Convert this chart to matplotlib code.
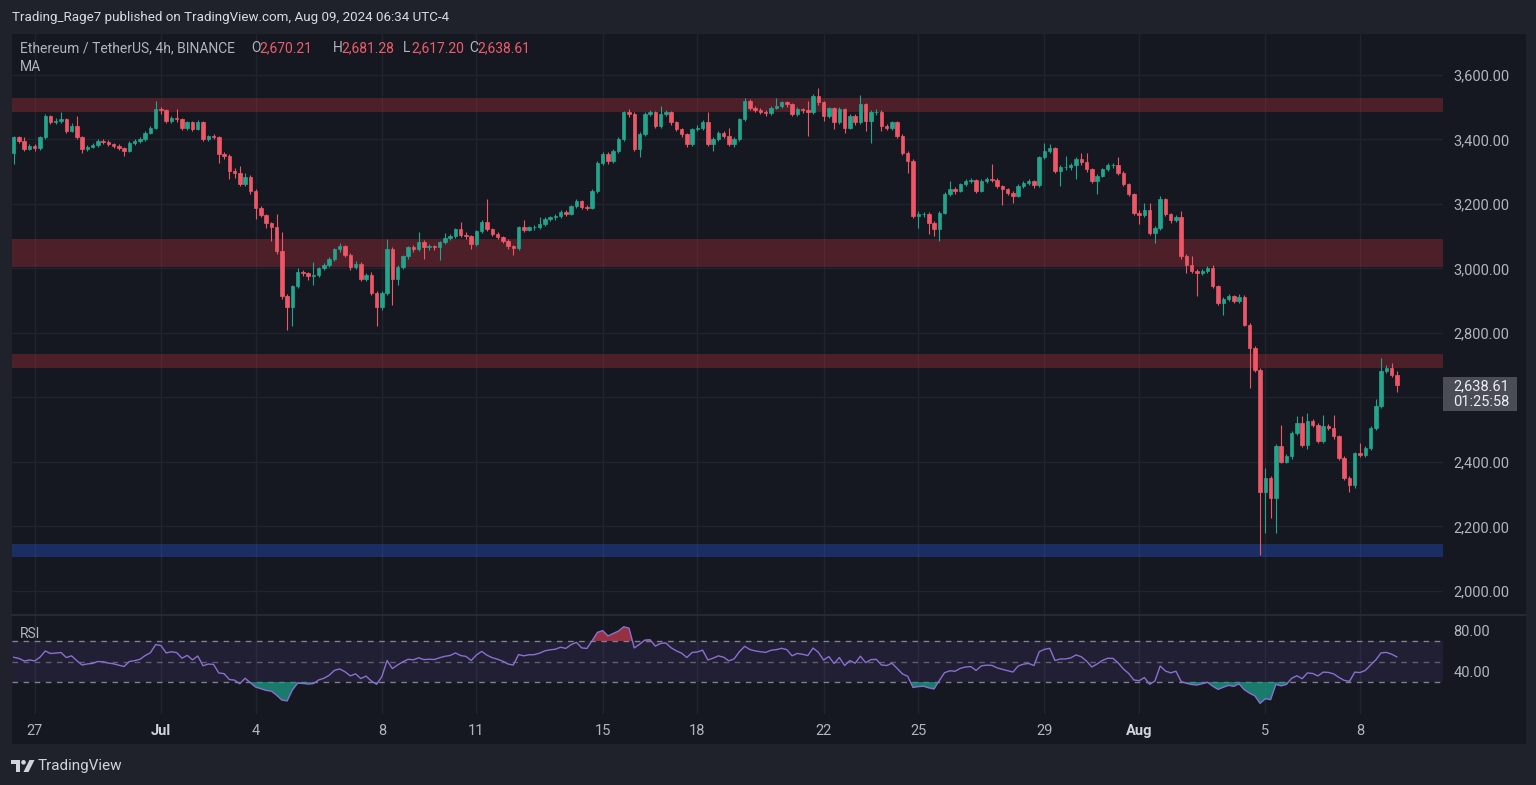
import numpy as np
import pandas as pd
import matplotlib
matplotlib.use('Agg')
from matplotlib import pyplot as plt
from matplotlib import patches

plt.rcParams['font.family'] = ['Roboto', 'DejaVu Sans']

W, H = 1536, 785

# ---- ETH/USDT 4h candles (Jun 26 08:00 -> Aug 9 04:00) ----
first_open = 3359
closes = [
    3406, 3395, 3370, 3380, 3372, 3406,
    3473, 3453, 3458, 3463, 3427, 3442,
    3406, 3370, 3378, 3382, 3395, 3393,
    3385, 3380, 3372, 3364, 3390, 3394,
    3401, 3421, 3437, 3494, 3490, 3458,
    3466, 3462, 3437, 3453, 3432, 3453,
    3401, 3410, 3408, 3354, 3349, 3302,
    3296, 3261, 3285, 3240, 3188, 3165,
    3140, 3128, 3053, 2913, 2879, 2944,
    2990, 2985, 2975, 2978, 3000, 3010,
    3028, 3059, 3068, 3043, 3003, 3015,
    2966, 2980, 2925, 2879, 2925, 3059,
    2966, 3003, 3037, 3065, 3060, 3081,
    3065, 3068, 3066, 3081, 3093, 3100,
    3121, 3105, 3100, 3075, 3115, 3143,
    3121, 3106, 3097, 3085, 3068, 3062,
    3127, 3120, 3127, 3128, 3137, 3152,
    3158, 3162, 3174, 3170, 3193, 3208,
    3190, 3188, 3240, 3328, 3354, 3333,
    3364, 3401, 3484, 3478, 3370, 3416,
    3478, 3484, 3442, 3478, 3484, 3453,
    3432, 3416, 3385, 3432, 3437, 3455,
    3385, 3401, 3421, 3411, 3385, 3401,
    3463, 3520, 3499, 3490, 3485, 3481,
    3499, 3504, 3515, 3509, 3478, 3494,
    3490, 3484, 3535, 3515, 3473, 3496,
    3453, 3494, 3437, 3473, 3453, 3509,
    3458, 3484, 3486, 3442, 3437, 3453,
    3411, 3359, 3333, 3162, 3168, 3170,
    3142, 3121, 3173, 3230, 3245, 3240,
    3261, 3271, 3274, 3240, 3271, 3276,
    3274, 3256, 3245, 3235, 3225, 3256,
    3266, 3270, 3258, 3344, 3364, 3372,
    3302, 3313, 3313, 3320, 3339, 3330,
    3307, 3271, 3287, 3307, 3320, 3320,
    3297, 3261, 3230, 3173, 3166, 3180,
    3111, 3126, 3214, 3168, 3150, 3160,
    3038, 3012, 2992, 2985, 2992, 3000,
    2945, 2893, 2904, 2914, 2900, 2912,
    2826, 2754, 2686, 2308, 2350, 2288,
    2448, 2401, 2417, 2489, 2521, 2453,
    2526, 2515, 2464, 2510, 2505, 2479,
    2412, 2350, 2329, 2427, 2420, 2443,
    2505, 2572, 2681, 2690, 2670.21, 2638.61,
]
highs = [
    3412, 3410, 3406, 3386, 3385, 3410,
    3478, 3475, 3466, 3484, 3468, 3450,
    3473, 3412, 3384, 3390, 3400, 3401,
    3398, 3390, 3386, 3378, 3394, 3400,
    3406, 3426, 3442, 3520, 3500, 3495,
    3472, 3494, 3468, 3458, 3458, 3460,
    3456, 3415, 3418, 3412, 3360, 3355,
    3310, 3318, 3295, 3290, 3245, 3192,
    3170, 3145, 3168, 3112, 2920, 2950,
    3000, 2995, 2990, 3020, 3005, 3018,
    3034, 3064, 3080, 3072, 3048, 3022,
    3020, 2986, 2990, 2930, 2930, 3090,
    3065, 3010, 3042, 3070, 3072, 3112,
    3088, 3075, 3074, 3086, 3110, 3106,
    3126, 3143, 3112, 3104, 3120, 3150,
    3214, 3126, 3112, 3102, 3090, 3072,
    3132, 3150, 3133, 3134, 3160, 3158,
    3164, 3168, 3180, 3182, 3198, 3215,
    3212, 3196, 3246, 3334, 3362, 3360,
    3370, 3408, 3489, 3494, 3484, 3422,
    3484, 3490, 3488, 3504, 3490, 3488,
    3458, 3437, 3420, 3437, 3444, 3460,
    3484, 3406, 3426, 3426, 3437, 3406,
    3468, 3530, 3524, 3505, 3496, 3490,
    3504, 3530, 3520, 3520, 3514, 3500,
    3498, 3520, 3540, 3561, 3520, 3502,
    3500, 3500, 3498, 3478, 3478, 3537,
    3514, 3490, 3494, 3490, 3448, 3458,
    3458, 3416, 3364, 3338, 3178, 3176,
    3174, 3148, 3178, 3236, 3271, 3252,
    3266, 3276, 3280, 3278, 3276, 3282,
    3323, 3280, 3260, 3250, 3240, 3262,
    3272, 3276, 3275, 3350, 3390, 3385,
    3376, 3320, 3349, 3326, 3345, 3359,
    3359, 3312, 3292, 3312, 3326, 3328,
    3344, 3302, 3266, 3235, 3180, 3204,
    3204, 3132, 3225, 3218, 3172, 3166,
    3178, 3044, 3038, 2998, 2998, 3006,
    3012, 2950, 2910, 2920, 2918, 2920,
    2916, 2832, 2760, 2692, 2381, 2356,
    2454, 2515, 2424, 2495, 2541, 2541,
    2551, 2532, 2520, 2546, 2516, 2546,
    2484, 2418, 2356, 2432, 2460, 2448,
    2510, 2595, 2723, 2700, 2707, 2681.28,
]
lows = [
    3323, 3390, 3365, 3366, 3364, 3368,
    3400, 3447, 3448, 3452, 3420, 3422,
    3400, 3359, 3365, 3372, 3376, 3386,
    3380, 3374, 3366, 3349, 3360, 3384,
    3388, 3396, 3416, 3432, 3480, 3452,
    3450, 3455, 3430, 3430, 3425, 3428,
    3395, 3396, 3400, 3328, 3340, 3276,
    3280, 3255, 3255, 3232, 3152, 3158,
    3125, 3085, 3045, 2905, 2810, 2820,
    2938, 2975, 2965, 2950, 2972, 2995,
    3004, 3022, 3052, 3036, 2996, 2998,
    2960, 2960, 2918, 2820, 2870, 2918,
    2885, 2950, 2998, 3030, 3052, 3055,
    3028, 3058, 3058, 3025, 3075, 3088,
    3095, 3098, 3092, 3060, 3070, 3110,
    3115, 3100, 3090, 3078, 3060, 3043,
    3058, 3112, 3115, 3120, 3122, 3132,
    3146, 3150, 3156, 3164, 3165, 3188,
    3184, 3180, 3184, 3235, 3322, 3325,
    3328, 3358, 3396, 3470, 3364, 3344,
    3410, 3472, 3436, 3436, 3472, 3446,
    3425, 3408, 3375, 3380, 3426, 3430,
    3380, 3364, 3396, 3405, 3380, 3378,
    3396, 3458, 3492, 3484, 3478, 3474,
    3476, 3494, 3498, 3502, 3472, 3472,
    3482, 3411, 3478, 3508, 3458, 3468,
    3432, 3448, 3421, 3432, 3446, 3448,
    3427, 3390, 3476, 3427, 3430, 3430,
    3405, 3352, 3297, 3155, 3126, 3158,
    3106, 3100, 3085, 3168, 3225, 3232,
    3236, 3255, 3264, 3234, 3236, 3266,
    3268, 3250, 3196, 3228, 3204, 3220,
    3250, 3260, 3250, 3254, 3338, 3358,
    3296, 3256, 3305, 3306, 3276, 3322,
    3300, 3265, 3230, 3282, 3302, 3312,
    3290, 3255, 3224, 3166, 3137, 3160,
    3105, 3080, 3120, 3162, 3142, 3144,
    3030, 2987, 2985, 2914, 2978, 2986,
    2938, 2886, 2857, 2898, 2894, 2894,
    2820, 2629, 2680, 2112, 2179, 2226,
    2179, 2395, 2395, 2410, 2483, 2447,
    2440, 2508, 2458, 2458, 2498, 2472,
    2406, 2344, 2308, 2319, 2414, 2414,
    2438, 2500, 2566, 2676, 2664, 2617.20,
]

resistance_zones = [(3484, 3530), (3004, 3090), (2691, 2733)]
support_zone = (2105, 2145)

price_levels = [2000, 2200, 2400, 2600, 2800, 3000, 3200, 3400, 3600]
hidden_level = 2600   # its label sits under the last-price box
date_ticks = ['2024-06-27', '2024-07-01', '2024-07-04', '2024-07-08', '2024-07-11',
              '2024-07-15', '2024-07-18', '2024-07-22', '2024-07-25', '2024-07-29',
              '2024-08-01', '2024-08-05', '2024-08-08']
date_labels = ['27', 'Jul', '4', '8', '11', '15', '18', '22', '25', '29', 'Aug', '5', '8']

last_ohlc = ['2,670.21', '2,681.28', '2,617.20', '2,638.61']
countdown = '01:25:58'
rsi_len = 14
rsi_seed_move = 20   # assumed average move before the first visible candle

# ---- colours ----
OUTER = '#1f222b'
BG = '#151820'
GRID = '#20242e'
TXT = '#b2b5be'
HEAD = '#d8dbe3'
UP = '#22a58c'
DN = '#ef5767'
RSI_C = '#8a6fd1'

#

t = pd.date_range('2024-06-26 08:00', periods=len(closes), freq='4h')
tn = matplotlib.dates.date2num(t)
c = np.array(closes, dtype=float)
o = np.r_[first_open, c[:-1]]
hi = np.array(highs, dtype=float)
lo = np.array(lows, dtype=float)

# wilder rsi
ag = al = float(rsi_seed_move)
rsi = []
for d in np.diff(np.r_[first_open, c]):
    ag = (ag * (rsi_len - 1) + max(d, 0)) / rsi_len
    al = (al * (rsi_len - 1) + max(-d, 0)) / rsi_len
    rsi.append(100 - 100 / (1 + ag / al))
rsi = np.array(rsi)

fig = plt.figure(figsize=(W / 100, H / 100), dpi=100)
fig.set_facecolor(OUTER)

def box(l, top, r, b):
    return [l / W, 1 - b / H, (r - l) / W, (b - top) / H]

bg = fig.add_axes([0, 0, 1, 1], zorder=0)
bg.set(xlim=[0, W], ylim=[H, 0])
bg.axis('off')
bg.add_patch(patches.Rectangle((12, 34), 1514, 710, facecolor=BG, edgecolor='none'))

ax = fig.add_axes(box(12, 34, 1443, 615), zorder=2)
rax = fig.add_axes(box(12, 615, 1443, 714), zorder=2, sharex=ax)
for a in (ax, rax):
    a.set_facecolor('none')
    for s in a.spines.values():
        s.set_visible(False)

day0 = matplotlib.dates.date2num(pd.Timestamp('2024-06-26'))
ax.set_xlim(day0 + 0.28, day0 + 45.63)
ax.set_ylim(1925, 3727)
rax.set_ylim(-1.2, 95.4)

dt = matplotlib.dates.date2num(pd.to_datetime(date_ticks))
for a in (ax, rax):
    for d in dt:
        a.axvline(d, color=GRID, lw=1, zorder=0)
for p in price_levels:
    ax.axhline(p, color=GRID, lw=1, zorder=0)

for lo_z, hi_z in resistance_zones:
    ax.axhspan(lo_z, hi_z, color='#f23645', alpha=0.25, lw=0, zorder=1)
ax.axhspan(*support_zone, color='#2962ff', alpha=0.3, lw=0, zorder=1)

col = np.where(c >= o, UP, DN)
ax.vlines(tn, lo, hi, colors=col, lw=0.8, zorder=3)
ax.bar(tn, c - o, bottom=o, width=0.11, color=col, edgecolor=col, linewidth=0.5, zorder=4)

ax.yaxis.tick_right()
ax.set_yticks(price_levels)
ax.set_yticklabels(['' if p == hidden_level else f'{p:,.2f}' for p in price_levels])
ax.tick_params(axis='y', length=0, pad=7.5, labelsize=10.5, labelcolor=TXT)
ax.tick_params(axis='x', length=0, labelbottom=False)

# rsi pane
rax.axhspan(30, 70, color='#7e57c2', alpha=0.12, lw=0, zorder=1)
for lvl, al_ in ((70, 0.9), (50, 0.6), (30, 0.9)):
    rax.axhline(lvl, color='#8a8d96', lw=1, ls=(0, (4, 4)), alpha=al_, zorder=2)
rax.fill_between(tn, rsi, 70, where=rsi > 70, interpolate=True, color='#c23a4e', alpha=0.75, lw=0, zorder=2)
rax.fill_between(tn, rsi, 30, where=rsi < 30, interpolate=True, color='#1c9c86', alpha=0.75, lw=0, zorder=2)
rax.plot(tn, rsi, color=RSI_C, lw=1.0, zorder=3)
rax.yaxis.tick_right()
rax.set_yticks([40, 80])
rax.set_yticklabels(['40.00', '80.00'])
rax.tick_params(axis='y', length=0, pad=7.5, labelsize=10.5, labelcolor=TXT)
rax.set_xticks(dt)
rax.set_xticklabels(date_labels)
rax.tick_params(axis='x', length=0, pad=7, labelsize=10.5, labelcolor=TXT)
for lab in rax.get_xticklabels():
    if lab.get_text().isalpha():
        lab.set_fontweight('bold')
        lab.set_color('#d1d4dc')

# overlay: header, price box, logo
top = fig.add_axes([0, 0, 1, 1], zorder=5)
top.set(xlim=[0, W], ylim=[H, 0])
top.axis('off')
top.set_facecolor('none')
top.plot([12, 1526], [615, 615], color='#2a2e38', lw=1.2)

top.text(12, 17, 'Trading_Rage7 published on TradingView.com, Aug 09, 2024 06:34 UTC-4',
         color=HEAD, fontsize=9.6, va='center')
top.text(20, 48, 'Ethereum / TetherUS, 4h, BINANCE', color=TXT, fontsize=10, va='center')
for x0, letter, val in zip([251, 333, 403, 469], 'OHLC', last_ohlc):
    top.text(x0, 48, letter, color=TXT, fontsize=10, va='center')
    top.text(x0 + 8.5, 48, val, color='#f05c6a', fontsize=10, va='center')
top.text(20, 67, 'MA', color=TXT, fontsize=10, va='center')
top.text(20, 634, 'RSI', color=TXT, fontsize=10, va='center')

top.add_patch(patches.Rectangle((1443, 377), 74, 34, facecolor='#4a4d56', edgecolor='none'))
top.text(1453, 386, last_ohlc[3], color='#eceef2', fontsize=10.5, va='center')
top.text(1453, 402, countdown, color='#eceef2', fontsize=10.5, va='center')

LOGO = '#d1d4dc'
top.add_patch(patches.Rectangle((11, 760), 9, 4, facecolor=LOGO, edgecolor='none'))
top.add_patch(patches.Rectangle((15.5, 760), 4.5, 12, facecolor=LOGO, edgecolor='none'))
top.add_patch(patches.Circle((23.5, 762.3), 2.3, facecolor=LOGO, edgecolor='none'))
top.add_patch(patches.Polygon([(23.5, 772), (28.5, 772), (34.5, 760), (29.5, 760)],
                              closed=True, facecolor=LOGO, edgecolor='none'))
top.text(38, 766, 'TradingView', color=LOGO, fontsize=11, va='center')

fig.savefig('out.png', dpi=100, facecolor=OUTER)
